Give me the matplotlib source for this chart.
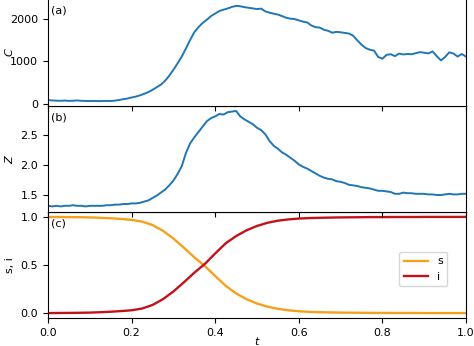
import numpy as np
import matplotlib
matplotlib.use("Agg")
import matplotlib.pyplot as plt

# ---- data ----
t_fine = [round(0.01 * k, 2) for k in range(101)]

C_vals = [90, 80, 75, 72, 78, 70, 74, 80, 72, 68,
          66, 70, 64, 66, 70, 68, 75, 90, 110, 125,
          150, 170, 200, 235, 275, 330, 390, 450, 540, 660,
          800, 950, 1110, 1300, 1500, 1680, 1800, 1900, 1975, 2060,
          2120, 2180, 2210, 2240, 2275, 2300, 2290, 2270, 2255, 2240,
          2225, 2235, 2170, 2140, 2115, 2095, 2060, 2020, 2000, 1990,
          1960, 1930, 1910, 1840, 1800, 1790, 1740, 1715, 1670, 1690,
          1680, 1665, 1650, 1600, 1490, 1390, 1310, 1270, 1250, 1100,
          1060, 1150, 1165, 1120, 1180, 1160, 1170, 1165, 1190, 1215,
          1200, 1185, 1230, 1120, 1020, 1100, 1210, 1180, 1110, 1170,
          1110]

Z_vals = [1.32, 1.31, 1.32, 1.31, 1.32, 1.32, 1.33, 1.32, 1.32, 1.31,
          1.32, 1.32, 1.32, 1.32, 1.33, 1.33, 1.34, 1.34, 1.35, 1.35,
          1.36, 1.36, 1.37, 1.39, 1.41, 1.45, 1.49, 1.54, 1.59, 1.66,
          1.74, 1.85, 1.98, 2.20, 2.36, 2.46, 2.55, 2.64, 2.73, 2.78,
          2.81, 2.85, 2.84, 2.88, 2.89, 2.90, 2.81, 2.76, 2.72, 2.68,
          2.62, 2.58, 2.51, 2.40, 2.32, 2.27, 2.21, 2.17, 2.12, 2.07,
          2.01, 1.97, 1.94, 1.90, 1.86, 1.82, 1.79, 1.77, 1.76, 1.73,
          1.72, 1.70, 1.67, 1.66, 1.65, 1.63, 1.62, 1.61, 1.59, 1.57,
          1.57, 1.56, 1.55, 1.52, 1.52, 1.54, 1.53, 1.53, 1.52, 1.52,
          1.52, 1.51, 1.51, 1.50, 1.50, 1.51, 1.52, 1.51, 1.51, 1.52,
          1.52]

t_coarse = [round(0.025 * k, 3) for k in range(41)]

s_vals = [0.998, 0.998, 0.997, 0.996, 0.994, 0.990, 0.985, 0.978, 0.968, 0.950,
          0.915, 0.855, 0.775, 0.680, 0.580, 0.490, 0.385, 0.285, 0.205, 0.145,
          0.100, 0.068, 0.045, 0.030, 0.020, 0.014, 0.010, 0.008, 0.006, 0.005,
          0.004, 0.003, 0.003, 0.002, 0.002, 0.002, 0.001, 0.001, 0.001, 0.001,
          0.001]

i_vals = [0.001, 0.002, 0.003, 0.004, 0.006, 0.010, 0.015, 0.022, 0.030, 0.048,
          0.085, 0.145, 0.225, 0.320, 0.420, 0.510, 0.620, 0.725, 0.800, 0.860,
          0.905, 0.938, 0.960, 0.973, 0.982, 0.987, 0.990, 0.992, 0.994, 0.995,
          0.996, 0.997, 0.997, 0.998, 0.998, 0.998, 0.999, 0.999, 0.999, 0.999,
          0.999]

x_ticks = [0.0, 0.2, 0.4, 0.6, 0.8, 1.0]

# ---- figure ----
plt.rcParams['font.size'] = 8
fig = plt.figure(figsize=(4.74, 3.46), dpi=100)

L, W = 48 / 474, 418 / 474
H = 106 / 346
b_c = 1 - 318 / 346
b_b = b_c + H
b_a = b_b + H

ax_c = fig.add_axes([L, b_c, W, H])
ax_b = fig.add_axes([L, b_b, W, H], sharex=ax_c)
ax_a = fig.add_axes([L, b_a, W, H + 0.004], sharex=ax_c)

blue = '#1f77b4'
ax_a.plot(t_fine, C_vals, color=blue, lw=1.4)
ax_a.set_ylim(-50, 2470)
ax_a.set_yticks([0, 1000, 2000])
ax_a.set_ylabel('$C$')
ax_a.tick_params(labelbottom=False)

ax_b.plot(t_fine, Z_vals, color=blue, lw=1.4)
ax_b.set_ylim(1.217, 2.983)
ax_b.set_yticks([1.5, 2.0, 2.5])
ax_b.set_ylabel('$Z$')
ax_b.tick_params(labelbottom=False)

ax_c.plot(t_coarse, s_vals, color='#f7a01c', lw=1.7, label='s')
ax_c.plot(t_coarse, i_vals, color='#c4121c', lw=1.7, label='i')
ax_c.set_ylim(-0.05, 1.05)
ax_c.set_yticks([0.0, 0.5, 1.0])
ax_c.set_ylabel('s, i')
ax_c.set_xlabel('$t$', labelpad=-2)
ax_c.set_xlim(0, 1)
ax_c.set_xticks(x_ticks)
ax_c.legend(loc='center right', bbox_to_anchor=(0.955, 0.46), borderaxespad=0,
            handlelength=2.2, fontsize=8)

for ax, lab in zip([ax_a, ax_b, ax_c], ['(a)', '(b)', '(c)']):
    ax.text(0.007, 0.94, lab, transform=ax.transAxes, va='top', ha='left', fontsize=8)
    ax.yaxis.set_label_coords(-0.08, 0.5)

fig.savefig('out.png', dpi=100)
